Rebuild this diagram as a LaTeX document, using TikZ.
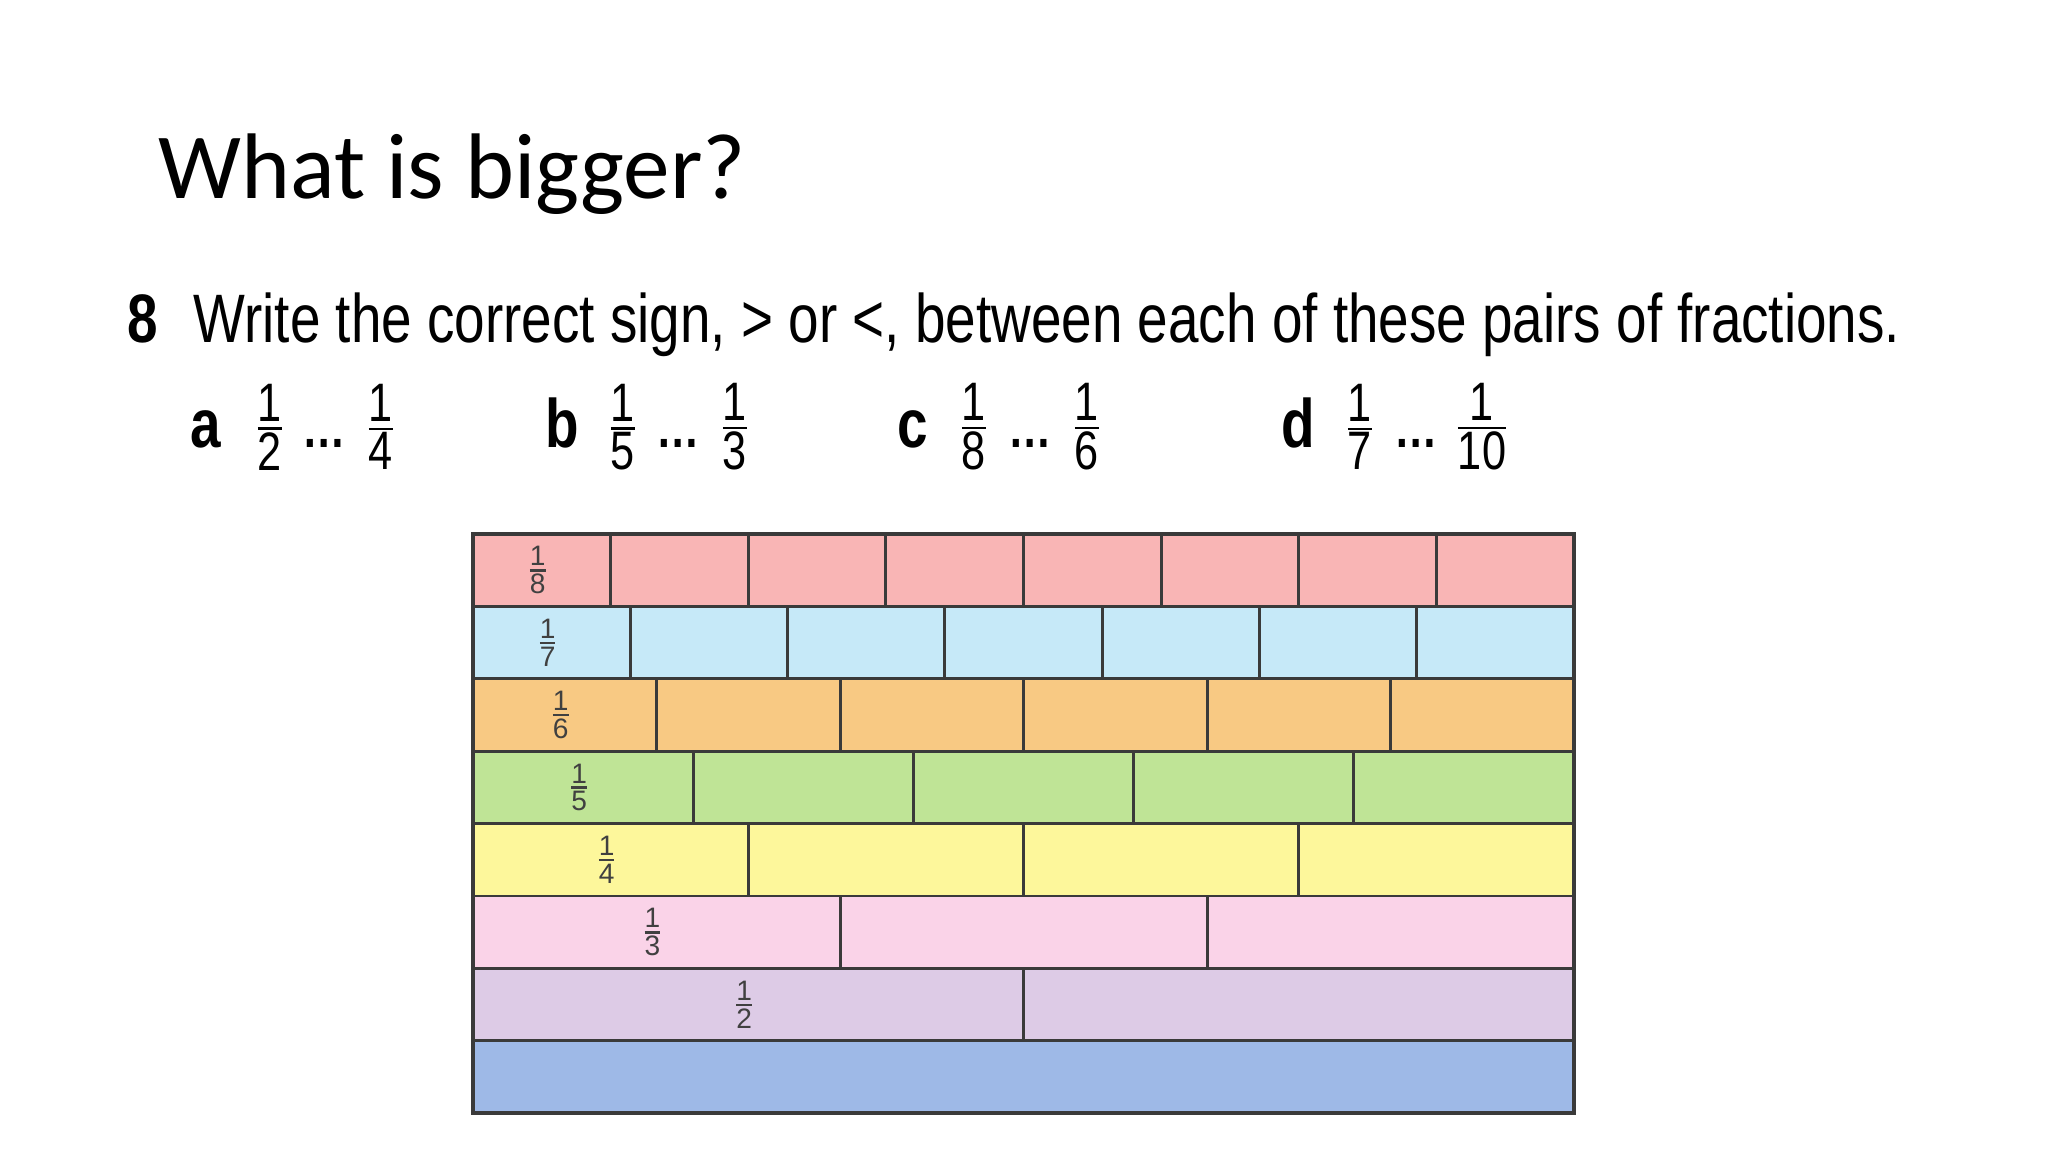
\documentclass[tikz,border=0pt]{standalone}
\usepackage{amsmath}
\usepackage{fontspec}
\usepackage{graphicx}
\setmainfont{Liberation Sans}
\newfontfamily\titlefont{Carlito}

\definecolor{eighth}{HTML}{F9B5B5}
\definecolor{seventh}{HTML}{C6E9F8}
\definecolor{sixth}{HTML}{F8C983}
\definecolor{fifth}{HTML}{BFE496}
\definecolor{quarter}{HTML}{FDF79B}
\definecolor{third}{HTML}{FAD3E8}
\definecolor{half}{HTML}{DDCBE6}
\definecolor{whole}{HTML}{9EB9E7}
\definecolor{edge}{HTML}{3A3A3A}

\newcommand{\narrow}[1]{\scalebox{0.8}[1]{#1}}
\newcommand{\fr}[2]{\ensuremath{\genfrac{}{}{0.7pt}{1}{\mbox{#1}}{\mbox{#2}}}}

\begin{document}
\begin{tikzpicture}[x=0.01cm, y=-0.01cm]
  \tikzstyle{every node} = [inner sep = 0]
  \tikzstyle{task} = [font = \fontsize{19.5}{23}\selectfont, anchor = base west]
  \tikzstyle{item} = [font = \fontsize{19.5}{23}\selectfont\bfseries, anchor = base]
  \tikzstyle{pair} = [font = \fontsize{15.4}{18}\selectfont]
  \tikzstyle{dots} = [font = \fontsize{15.4}{18}\selectfont\bfseries, anchor = base]
  \tikzstyle{brick} = [draw = edge, line width = 0.85pt]
  \tikzstyle{walllabel} = [font = \fontsize{8}{9.6}\selectfont, text = black!75]
\useasboundingbox (0,0) rectangle (2048,1152);

\node[anchor = base west, font = \titlefont\fontsize{26.5}{32}\selectfont]
  (title) at (158,199) {What is bigger?};

\node[task, font = \fontsize{19.5}{23}\selectfont\bfseries] (qnum) at (127,343) {\narrow{8}};
\node[task] (qtext) at (193,343)
  {\narrow{Write the correct sign, > or <, between each of these pairs of fractions.}};

\node[item] (ia) at (206,448) {\narrow{a}};
\node[pair] (ia1) at (270,427) {\narrow{\fr{1}{2}}};
\node[dots] (iad) at (324,448) {\narrow{…}};
\node[pair] (ia2) at (381,427) {\narrow{\fr{1}{4}}};

\node[item] (ib) at (562,448) {\narrow{b}};
\node[pair] (ib1) at (623,427) {\narrow{\fr{1}{5}}};
\node[dots] (ibd) at (678,448) {\narrow{…}};
\node[pair] (ib2) at (735,427) {\narrow{\fr{1}{3}}};

\node[item] (ic) at (913,448) {\narrow{c}};
\node[pair] (ic1) at (974,427) {\narrow{\fr{1}{8}}};
\node[dots] (icd) at (1030,448) {\narrow{…}};
\node[pair] (ic2) at (1087,427) {\narrow{\fr{1}{6}}};

\node[item] (id) at (1298,448) {\narrow{d}};
\node[pair] (id1) at (1360,427) {\narrow{\fr{1}{7}}};
\node[dots] (idd) at (1416,448) {\narrow{…}};
\node[pair] (id2) at (1482,427) {\narrow{\fr{1}{10}}};

% fraction wall
\foreach \n/\col [count=\r from 0] in {8/eighth,7/seventh,6/sixth,5/fifth,4/quarter,3/third,2/half,1/whole}{
  \foreach \k in {1,...,\n}
    \filldraw[brick, fill = \col] ({473+(\k-1)*1101/\n},{534+\r*72.4}) rectangle ({473+\k*1101/\n},{534+(\r+1)*72.4});
}
\foreach \n [count=\r from 0] in {8,7,6,5,4,3,2}
  \node[walllabel] (w\n) at ({473+1101/(2*\n)-4},{534+\r*72.4+36.2}) {\fr{1}{\n}};
\draw[draw = edge, line width = 1.3pt] (473,534) rectangle (1574,1113);

\end{tikzpicture}
\end{document}
